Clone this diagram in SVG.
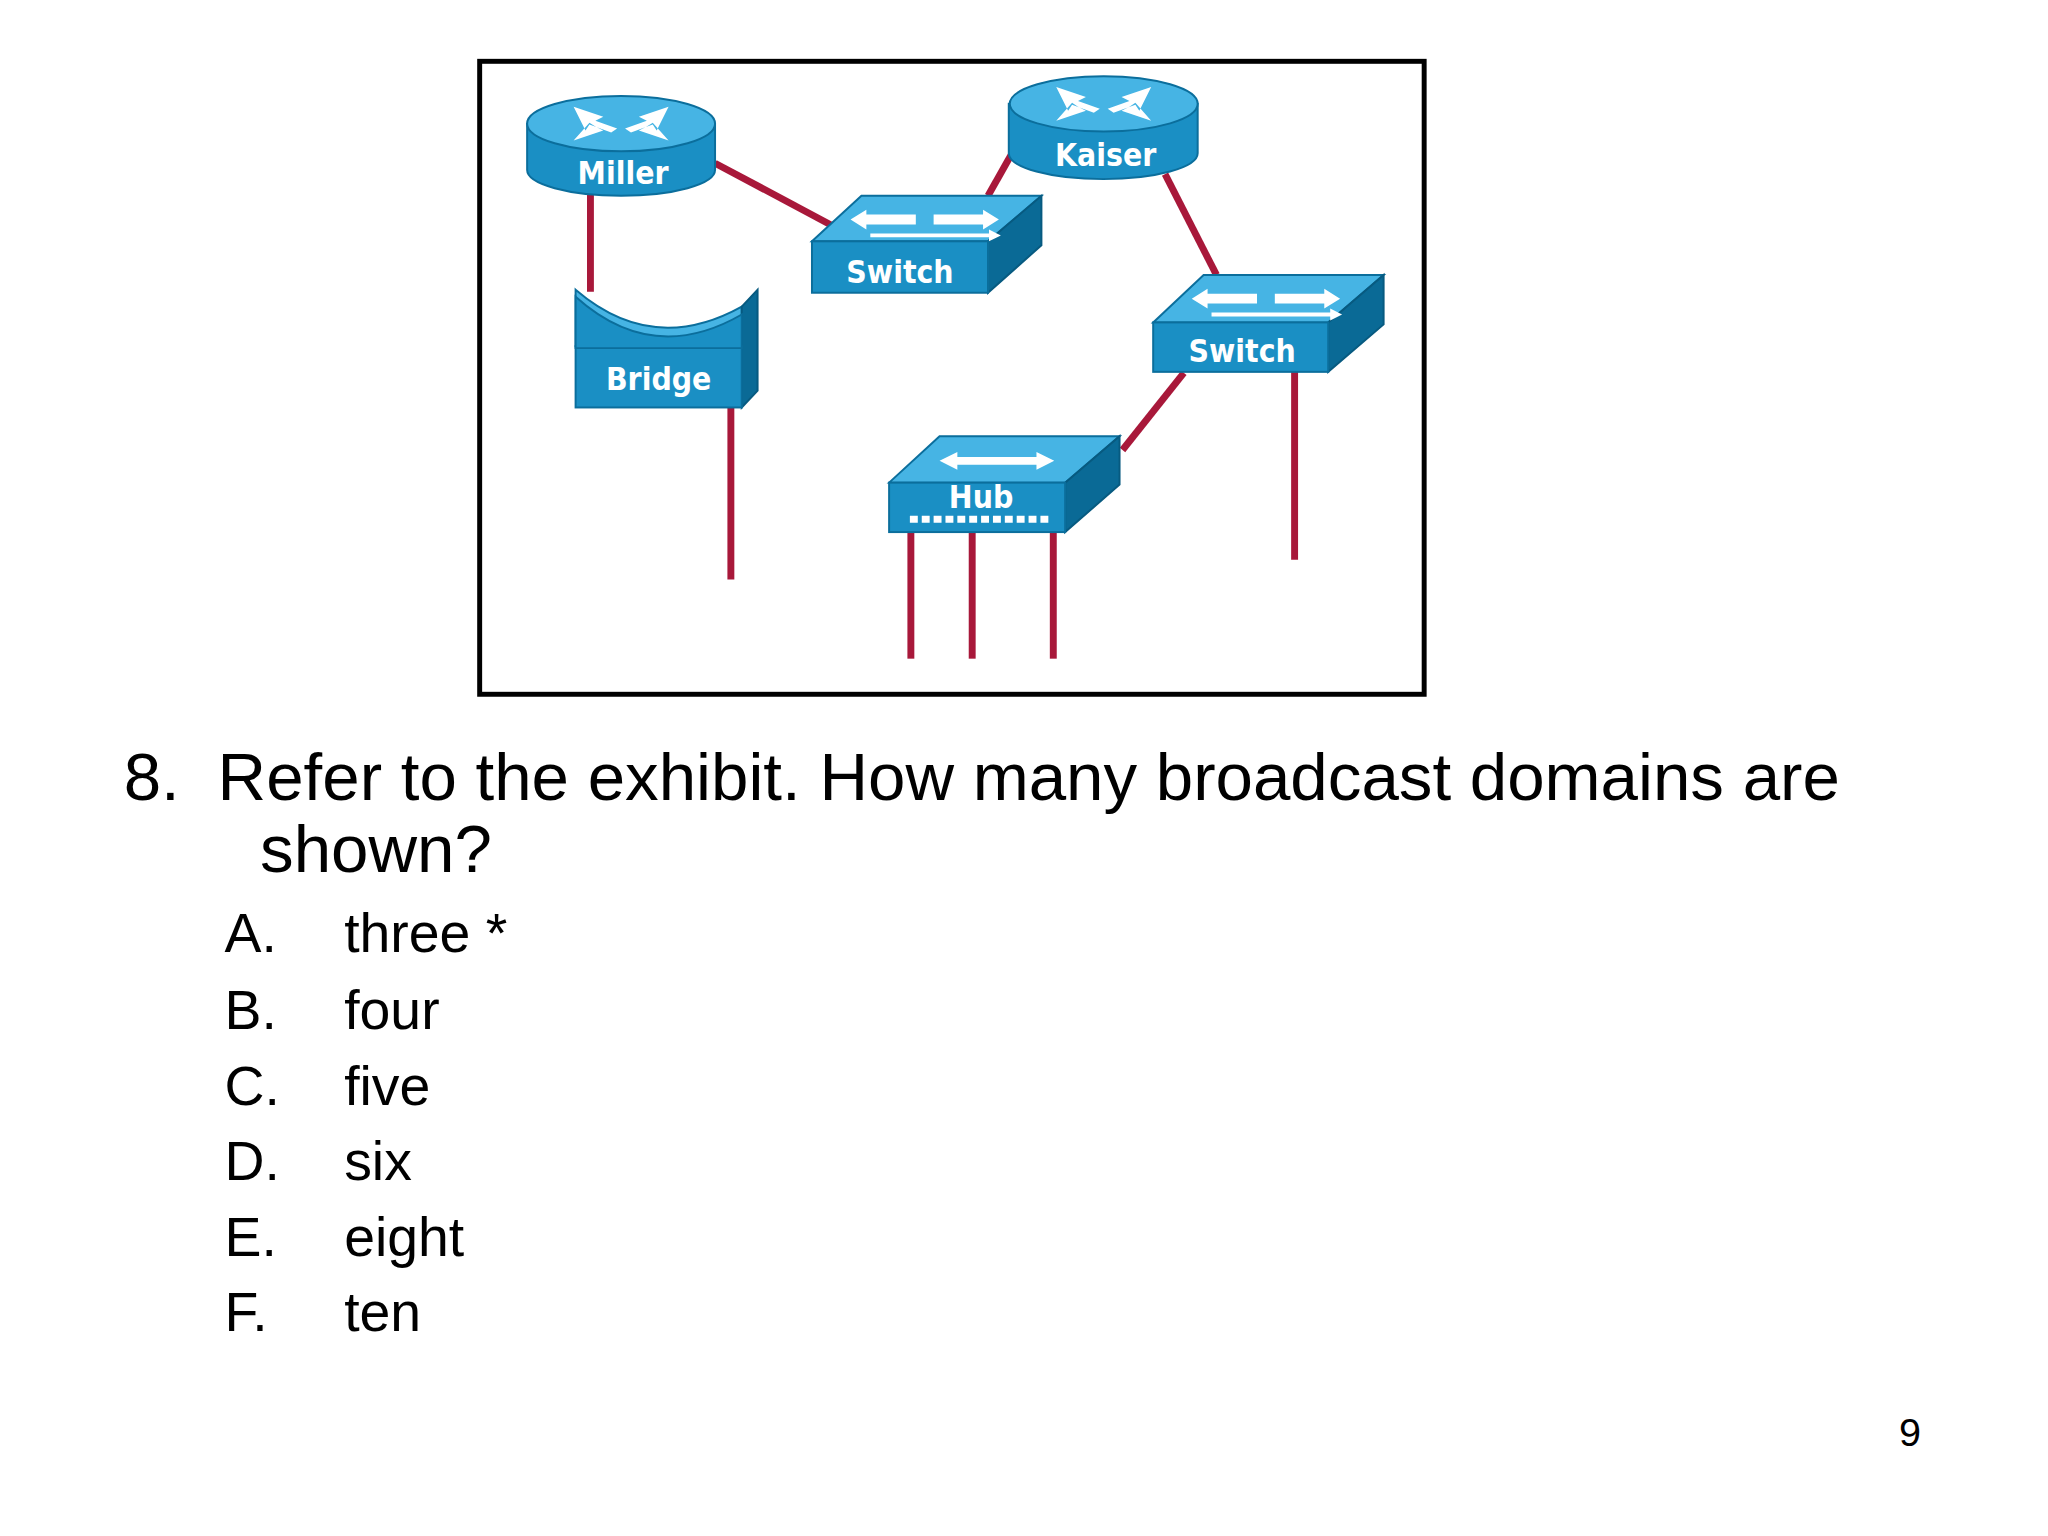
<svg xmlns="http://www.w3.org/2000/svg" width="2048" height="1536" viewBox="0 0 2048 1536">
<style>
.ln{stroke:#a8183a;stroke-width:7;fill:none}
.f{fill:#1a8fc4;stroke:#0b6e9c;stroke-width:2}
.t{fill:#46b4e4;stroke:#0b6e9c;stroke-width:2}
.s{fill:#0a6a96;stroke:#075a80;stroke-width:2}
.lb{font-family:"DejaVu Sans Condensed","DejaVu Sans",sans-serif;font-weight:bold;font-size:32px;fill:#fff;text-anchor:middle}
.q{font-family:"Liberation Sans",Arial,sans-serif;fill:#000}
.ar{fill:#fff}
</style>
<rect x="0" y="0" width="2048" height="1536" fill="#fff"/>
<g transform="scale(0.989)">
<rect x="485" y="62" width="955" height="640" fill="#fff" stroke="#000" stroke-width="5"/>
<g id="connectors">
<line class="ln" x1="723" y1="165" x2="845" y2="230"/>
<line class="ln" x1="597" y1="195" x2="597" y2="295"/>
<line class="ln" x1="999" y1="198" x2="1025" y2="152"/>
<line class="ln" x1="1178" y1="176" x2="1230" y2="278"/>
<line class="ln" x1="1197" y1="377" x2="1135" y2="455"/>
<line class="ln" x1="739" y1="412" x2="739" y2="586"/>
<line class="ln" x1="1309" y1="376" x2="1309" y2="566"/>
<line class="ln" x1="921" y1="538" x2="921" y2="666"/>
<line class="ln" x1="983" y1="538" x2="983" y2="666"/>
<line class="ln" x1="1065" y1="538" x2="1065" y2="666"/>
</g>
<g id="miller">
<path class="f" d="M533 125 L533 172 A95 26 0 0 0 723 172 L723 125 Z"/>
<ellipse class="t" cx="628" cy="125" rx="95" ry="28"/>
<path class="ar" d="M580 108 l30 10 -8 4 22 8 -6 4 -22 -8 -4 6 z M676 108 l-30 10 8 4 -22 8 6 4 22 -8 4 6 z M580 142 l30 -10 -8 -4 -6 -4 z M676 142 l-30 -10 8 -4 6 -4 z"/>
<text class="lb" x="630" y="186">Miller</text>
</g>
<g id="kaiser">
<path class="f" d="M1020 105 L1020 155 A95 26 0 0 0 1211 155 L1211 105 Z"/>
<ellipse class="t" cx="1116" cy="105" rx="95" ry="28"/>
<path class="ar" d="M1068 88 l30 10 -8 4 22 8 -6 4 -22 -8 -4 6 z M1164 88 l-30 10 8 4 -22 8 6 4 22 -8 4 6 z M1068 122 l30 -10 -8 -4 -6 -4 z M1164 122 l-30 -10 8 -4 6 -4 z"/>
<text class="lb" x="1118" y="168">Kaiser</text>
</g>
<g id="switch1">
<polygon class="t" points="821,244 871,198 1053,198 999,244"/>
<polygon class="s" points="999,244 1053,198 1053,248 999,296"/>
<rect class="f" x="821" y="244" width="178" height="52"/>
<path class="ar" d="M860 222 l16 -10 0 5 50 0 0 10 -50 0 0 5 z M1010 222 l-16 -10 0 5 -50 0 0 10 50 0 0 5 z M880 236 h120 v-4 l12 6 -12 6 v-4 h-120 z"/>
<text class="lb" x="910" y="286">Switch</text>
</g>
<g id="switch2">
<polygon class="t" points="1166,326 1217,278 1399,278 1343,326"/>
<polygon class="s" points="1343,326 1399,278 1399,328 1343,376"/>
<rect class="f" x="1166" y="326" width="177" height="50"/>
<path class="ar" d="M1205 302 l16 -10 0 5 50 0 0 10 -50 0 0 5 z M1355 302 l-16 -10 0 5 -50 0 0 10 50 0 0 5 z M1225 316 h120 v-4 l12 6 -12 6 v-4 h-120 z"/>
<text class="lb" x="1256" y="366">Switch</text>
</g>
<g id="bridge">
<path class="t" d="M582 293 Q660 360 750 310 L750 350 L582 350 Z"/>
<polygon class="s" points="750,310 766,293 766,395 750,412"/>
<rect class="f" x="582" y="350" width="168" height="62"/>
<path class="f" d="M582 300 Q660 370 750 318 L750 352 L582 352 Z" stroke="none"/>
<text class="lb" x="666" y="394">Bridge</text>
</g>
<g id="hub">
<polygon class="t" points="899,488 950,441 1132,441 1077,488"/>
<polygon class="s" points="1077,488 1132,441 1132,490 1077,538"/>
<rect class="f" x="899" y="488" width="178" height="50"/>
<path class="ar" d="M950 466 l18 -9 0 5 80 0 0 -5 18 9 -18 9 0 -5 -80 0 0 5 z"/>
<text class="lb" x="992" y="514" font-size="30">Hub</text>
<path d="M920 525 h142" stroke="#fff" stroke-width="7" stroke-dasharray="8 4"/>
</g>
<text class="q" x="125" y="809" font-size="68">8.</text>
<text class="q" x="220" y="809" font-size="68">Refer to the exhibit. How many broadcast domains are</text>
<text class="q" x="263" y="882" font-size="68">shown?</text>
<g class="q" font-size="56">
<text x="227" y="963">A.</text><text x="348" y="963">three *</text>
<text x="227" y="1040">B.</text><text x="348" y="1040">four</text>
<text x="227" y="1117">C.</text><text x="348" y="1117">five</text>
<text x="227" y="1193">D.</text><text x="348" y="1193">six</text>
<text x="227" y="1270">E.</text><text x="348" y="1270">eight</text>
<text x="227" y="1346">F.</text><text x="348" y="1346">ten</text>
</g>
<text class="q" x="1920" y="1462" font-size="40">9</text>
</g>
</svg>
